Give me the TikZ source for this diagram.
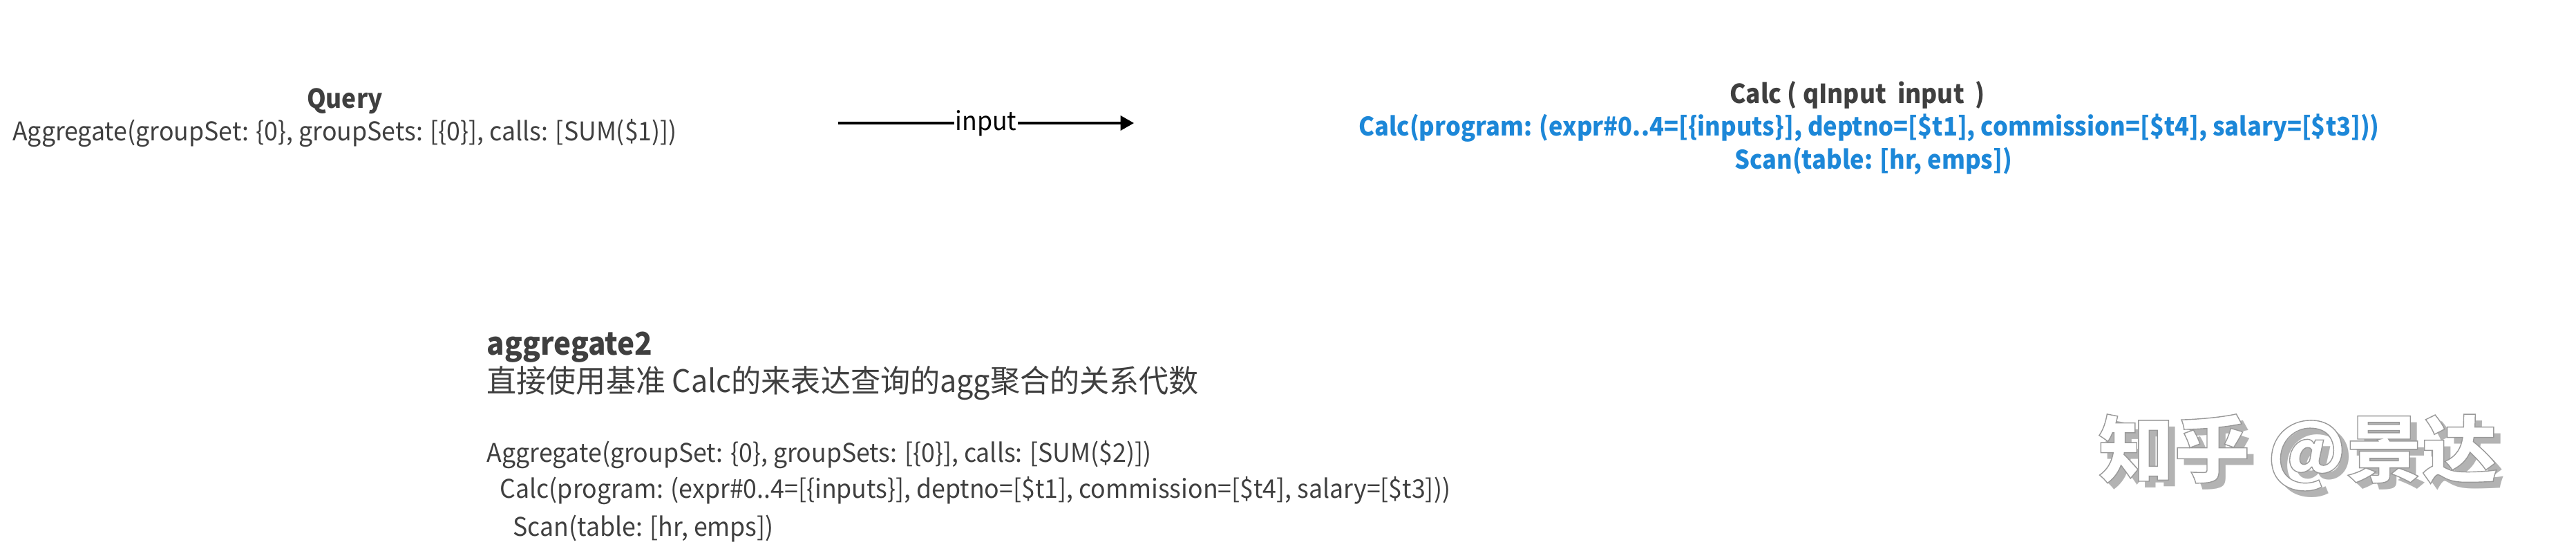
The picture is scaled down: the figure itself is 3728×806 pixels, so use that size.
\documentclass[tikz,border=0pt]{standalone}
\usepackage{fontspec}
\setmainfont{Noto Sans CJK SC}[FakeStretch=0.957,BoldFeatures={FakeStretch=0.93}]
\newfontfamily\markfont{Noto Sans CJK SC}[FakeStretch=1.04,BoldFeatures={FakeStretch=1.04}]
\usepackage{xcolor}
\usepackage{tikz}
\usetikzlibrary{arrows.meta}
\definecolor{plangray}{HTML}{3F3F3F}
\definecolor{calcblue}{HTML}{1C87D8}
\definecolor{markgray}{HTML}{B3B3B3}
% white letters with a thin grey rim, grey copy as shade
\newcommand\rimtext[1]{{\color{white}\special{pdf:literal direct 2 Tr 0.4 w 0.6 G}#1\special{pdf:literal direct 0 Tr}}}
\newcommand\shadetext[1]{\rlap{\kern0.1cm\raisebox{-0.09cm}{\color{markgray}#1}}\rimtext{#1}}

\begin{document}
\begin{tikzpicture}[x=0.01cm,y=-0.01cm,
    plan/.style={inner sep=0pt,text=plangray,font=\fontsize{10.6}{13}\selectfont},
    planbold/.style={plan,font=\fontsize{10.8}{13}\selectfont\bfseries},
    calcline/.style={planbold,text=calcblue,font=\fontsize{10.55}{13}\selectfont\bfseries},
    bigplan/.style={plan,anchor=base west,font=\fontsize{12.8}{15}\selectfont},
    watermark/.style={inner sep=0pt,anchor=base west,font=\fontsize{30}{32}\selectfont\markfont\bfseries}
    ]
    \useasboundingbox (0,0) rectangle (3728,806);
    % Query
    \node[planbold,anchor=base] (qtitle) at (499,156) {Query};
    \node[plan,anchor=base] (qagg) at (499,203) {Aggregate(groupSet: \{0\}, groupSets: [\{0\}], calls: [SUM(\$1)])};
    % input arrow
    \coordinate (inStart) at (1213,178);
    \coordinate (inEnd) at (1641,178);
    \draw[line width=0.9pt,-{Triangle[length=5.5pt,width=6pt]}] (inStart) -- (inEnd)
        node[midway,fill=white,inner sep=0.5pt,text=black,font=\fontsize{10.6}{13}\selectfont] (inlabel) {input};
    % Calc input
    \node[planbold,anchor=base] (ctitle) at (2688,149) {Calc ( qInput \ input \ )};
    \node[calcline,anchor=base] (cprog) at (2705,196) {Calc(program: (expr\#0..4=[\{inputs\}], deptno=[\$t1], commission=[\$t4], salary=[\$t3]))};
    \node[calcline,anchor=base] (cscan) at (2711,244) {Scan(table: [hr, emps])};
    % aggregate2
    \node[bigplan,font=\fontsize{12.9}{15}\selectfont\bfseries] (atitle) at (704,513) {aggregate2};
    \node[bigplan] (anote) at (704,567) {直接使用基准 Calc的来表达查询的agg聚合的关系代数};
    \node[bigplan,font=\fontsize{10.6}{13}\selectfont] (aagg) at (704,668) {Aggregate(groupSet: \{0\}, groupSets: [\{0\}], calls: [SUM(\$2)])};
    \node[bigplan,font=\fontsize{10.6}{13}\selectfont] (acalc) at (723,720) {Calc(program: (expr\#0..4=[\{inputs\}], deptno=[\$t1], commission=[\$t4], salary=[\$t3]))};
    \node[bigplan,font=\fontsize{10.6}{13}\selectfont] (ascan) at (742,775) {Scan(table: [hr, emps])};
    % watermark
    \node[watermark] (wmark) at (3036,689) {\shadetext{知乎 @景达}};
\end{tikzpicture}
\end{document}
